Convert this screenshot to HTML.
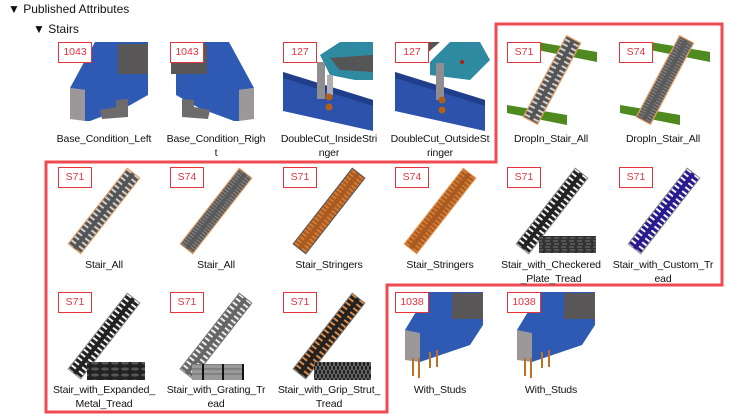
<!DOCTYPE html>
<html><head><meta charset="utf-8"><style>
html,body{margin:0;padding:0;background:#fff;}
body{width:730px;height:417px;position:relative;overflow:hidden;font-family:"Liberation Sans",sans-serif;}
.t{position:absolute;font-size:10.5px;letter-spacing:-0.15px;color:#111;text-align:center;width:114px;line-height:14px;}
.h{position:absolute;font-size:12px;color:#111;}
.b{position:absolute;width:32px;height:19px;border:1.5px solid #e8333c;background:#fff;color:#e8333c;font-size:10.5px;line-height:19px;text-align:center;}
svg{position:absolute;left:0;top:0;}
</style></head><body>
<svg width="730" height="417" viewBox="0 0 730 417">
<defs>
<pattern id="pg" width="5" height="16" patternUnits="userSpaceOnUse"><rect width="5" height="16" fill="#555"/><rect x="1" y="2" width="2" height="12" fill="#cfcfcf"/></pattern>
<pattern id="pd" width="3" height="16" patternUnits="userSpaceOnUse"><rect width="3" height="16" fill="#5a5a5a"/><rect x="1" y="2" width="1" height="12" fill="#888"/></pattern>
<pattern id="po" width="4" height="16" patternUnits="userSpaceOnUse"><rect width="4" height="16" fill="#a85a20"/><rect x="1" y="2" width="2" height="12" fill="#d07a36"/></pattern>
<pattern id="pk" width="5" height="16" patternUnits="userSpaceOnUse"><rect width="5" height="16" fill="#222"/><rect x="1" y="2" width="2" height="12" fill="#f4f4f4"/></pattern>
<pattern id="pb" width="5" height="16" patternUnits="userSpaceOnUse"><rect width="5" height="16" fill="#2a1a90"/><rect x="1" y="2" width="2" height="12" fill="#f4f4f4"/></pattern>
<pattern id="pgr" width="5" height="16" patternUnits="userSpaceOnUse"><rect width="5" height="16" fill="#666"/><rect x="1" y="2" width="2" height="12" fill="#eee"/></pattern>
<pattern id="pok" width="5" height="16" patternUnits="userSpaceOnUse"><rect width="5" height="16" fill="#222"/><rect x="1" y="2" width="2" height="12" fill="#e08a40"/></pattern>
<pattern id="chk" width="8" height="6" patternUnits="userSpaceOnUse"><rect width="8" height="6" fill="#333"/><path d="M1 1h5M2 4h5" stroke="#777" stroke-width="1"/></pattern>
<pattern id="exp" width="10" height="6" patternUnits="userSpaceOnUse"><rect width="10" height="6" fill="#222"/><ellipse cx="5" cy="3" rx="4" ry="1.6" fill="#555"/></pattern>
<pattern id="grip" width="8" height="8" patternUnits="userSpaceOnUse"><rect width="8" height="8" fill="#1a1a1a"/><path d="M0 0L4 8L8 0M0 8L4 0L8 8" stroke="#888" stroke-width="0.8" fill="none"/></pattern>
<pattern id="grt" width="20" height="18" patternUnits="userSpaceOnUse"><rect width="20" height="18" fill="#999"/><path d="M0 4H20M0 9H20M0 14H20" stroke="#555" stroke-width="0.8"/><path d="M3 0V18" stroke="#111" stroke-width="2"/></pattern>
</defs>
<path d="M46 162H496V24H722V285H387V412H46Z" fill="none" stroke="#ef4a52" stroke-width="3"/>

<!-- Base_Condition_Left -->
<polygon points="70,88 95,42 148,42 148,95 125,108 90,121 85,121 85,90" fill="#2e5ab4"/>
<polygon points="70,88 85,90 85,121 70,119" fill="#9c989a"/>
<rect x="118" y="44" width="30" height="30" fill="#5a5758"/>
<polygon points="100,110 116,107 116,100 128,99 128,117 102,119" fill="#6d6b6b"/>
<!-- Base_Condition_Right -->
<polygon points="254,88 229,42 176,42 176,95 199,108 234,121 239,121 239,90" fill="#2e5ab4"/>
<polygon points="254,88 239,90 239,121 254,119" fill="#9c989a"/>
<rect x="171" y="44" width="36" height="30" fill="#5a5758"/>
<polygon points="210,110 194,107 194,100 182,99 182,117 208,119" fill="#6d6b6b"/>
<!-- DoubleCut inside -->
<polygon points="283,72 373,100 373,131 283,111" fill="#2d52ac"/>
<polygon points="283,72 373,100 373,106 283,78" fill="#1f3f8a"/>
<polygon points="320,55 340,42 373,42 373,80 355,80 330,75" fill="#2e8aa0"/>
<polygon points="330,58 373,55 373,72 340,70" fill="#555"/>
<rect x="317" y="62" width="8" height="37" fill="#8f8d90"/>
<rect x="327" y="75" width="6" height="20" fill="#b0aeb0"/>
<circle cx="329" cy="97" r="3.5" fill="#b0601a"/><circle cx="329" cy="107" r="3.5" fill="#b0601a"/>
<!-- DoubleCut outside -->
<polygon points="395,72 485,100 485,131 395,111" fill="#2d52ac"/>
<polygon points="395,72 485,100 485,106 395,78" fill="#1f3f8a"/>
<polygon points="410,42 450,42 430,62 430,75 470,80 490,60 480,42" fill="#2e8aa0"/>
<polygon points="405,42 440,42 425,55 405,50" fill="#555"/>
<rect x="436" y="63" width="8" height="37" fill="#8f8d90"/>
<circle cx="442" cy="100" r="3.5" fill="#b0601a"/><circle cx="442" cy="110" r="3.5" fill="#b0601a"/>
<circle cx="462" cy="62" r="2" fill="#b02010"/>

<!-- DropIn stairs -->
<polygon points="537,42 597,52 597,62 537,50" fill="#4e8a20"/>
<polygon points="507,105 567,115 567,125 507,113" fill="#4e8a20"/>
<g transform="translate(552,80) rotate(-62)"><rect x="-46" y="-8" width="92" height="16" fill="url(#pg)" stroke="#e8a060" stroke-width="1.2"/></g>
<polygon points="650,42 710,52 710,62 650,50" fill="#4e8a20"/>
<polygon points="620,105 680,115 680,125 620,113" fill="#4e8a20"/>
<g transform="translate(665,80) rotate(-62)"><rect x="-46" y="-8" width="92" height="16" fill="url(#pd)" stroke="#e8a060" stroke-width="1.2"/></g>

<!-- row 2 -->
<g transform="translate(104,211) rotate(-52)"><rect x="-48" y="-8" width="96" height="16" fill="url(#pg)" stroke="#e8a060" stroke-width="1"/></g>
<g transform="translate(216,211) rotate(-52)"><rect x="-48" y="-8" width="96" height="16" fill="url(#pd)" stroke="#e8a060" stroke-width="1"/></g>
<g transform="translate(329,211) rotate(-52)"><rect x="-48" y="-8" width="96" height="16" fill="url(#po)" stroke="#555" stroke-width="1"/></g>
<g transform="translate(440,211) rotate(-52)"><rect x="-48" y="-8" width="96" height="16" fill="url(#po)" stroke="#e8a060" stroke-width="1"/></g>
<g transform="translate(552,211) rotate(-52)"><rect x="-48" y="-8" width="96" height="16" fill="url(#pk)" stroke="#888" stroke-width="1"/></g>
<rect x="539" y="236" width="57" height="17" fill="url(#chk)"/>
<g transform="translate(664,211) rotate(-52)"><rect x="-48" y="-8" width="96" height="16" fill="url(#pb)" stroke="#888" stroke-width="1"/></g>

<!-- row 3 -->
<g transform="translate(104,336) rotate(-52)"><rect x="-48" y="-8" width="96" height="16" fill="url(#pk)" stroke="#888" stroke-width="1"/></g>
<rect x="87" y="362" width="58" height="18" fill="url(#exp)"/>
<g transform="translate(216,336) rotate(-52)"><rect x="-48" y="-8" width="96" height="16" fill="url(#pgr)" stroke="#777" stroke-width="1"/></g>
<rect x="192" y="364" width="52" height="16" fill="url(#grt)"/>
<g transform="translate(329,336) rotate(-52)"><rect x="-48" y="-8" width="96" height="16" fill="url(#pok)" stroke="#777" stroke-width="1"/></g>
<rect x="314" y="362" width="57" height="18" fill="url(#grip)"/>

<!-- With_Studs -->
<g id="stud">
<polygon points="405,330 428,292 483,292 483,325 470,345 420,362" fill="#2e5ab4"/>
<polygon points="405,330 420,333 420,362 405,360" fill="#9c989a"/>
<rect x="452" y="293" width="31" height="26" fill="#5a5758"/>
<path d="M413 358V376M419 358V378M430 352V368M437 350V367" stroke="#c07020" stroke-width="2"/>
</g>
<use href="#stud" transform="translate(112,0)"/>
</svg>

<div class="h" style="left:8px;top:2px;">&#9660;&nbsp;Published Attributes</div>
<div class="h" style="left:33px;top:22px;">&#9660;&nbsp;Stairs</div>

<div class="b" style="left:58px;top:42px;">1043</div>
<div class="b" style="left:170px;top:42px;">1043</div>
<div class="b" style="left:283px;top:42px;">127</div>
<div class="b" style="left:395px;top:42px;">127</div>
<div class="b" style="left:507px;top:42px;">S71</div>
<div class="b" style="left:619px;top:42px;">S74</div>

<div class="b" style="left:58px;top:167px;">S71</div>
<div class="b" style="left:170px;top:167px;">S74</div>
<div class="b" style="left:283px;top:167px;">S71</div>
<div class="b" style="left:395px;top:167px;">S74</div>
<div class="b" style="left:507px;top:167px;">S71</div>
<div class="b" style="left:619px;top:167px;">S71</div>

<div class="b" style="left:58px;top:292px;">S71</div>
<div class="b" style="left:170px;top:292px;">S71</div>
<div class="b" style="left:283px;top:292px;">S71</div>
<div class="b" style="left:395px;top:292px;">1038</div>
<div class="b" style="left:507px;top:292px;">1038</div>

<div class="t" style="left:47px;top:132px;">Base_Condition_Left</div>
<div class="t" style="left:159px;top:132px;">Base_Condition_Righ<br>t</div>
<div class="t" style="left:272px;top:132px;">DoubleCut_InsideStri<br>nger</div>
<div class="t" style="left:383px;top:132px;">DoubleCut_OutsideSt<br>ringer</div>
<div class="t" style="left:494px;top:132px;">DropIn_Stair_All</div>
<div class="t" style="left:606px;top:132px;">DropIn_Stair_All</div>

<div class="t" style="left:47px;top:258px;">Stair_All</div>
<div class="t" style="left:159px;top:258px;">Stair_All</div>
<div class="t" style="left:272px;top:258px;">Stair_Stringers</div>
<div class="t" style="left:383px;top:258px;">Stair_Stringers</div>
<div class="t" style="left:494px;top:258px;">Stair_with_Checkered<br>_Plate_Tread</div>
<div class="t" style="left:606px;top:258px;">Stair_with_Custom_Tr<br>ead</div>

<div class="t" style="left:47px;top:383px;">Stair_with_Expanded_<br>Metal_Tread</div>
<div class="t" style="left:159px;top:383px;">Stair_with_Grating_Tr<br>ead</div>
<div class="t" style="left:272px;top:383px;">Stair_with_Grip_Strut_<br>Tread</div>
<div class="t" style="left:383px;top:383px;">With_Studs</div>
<div class="t" style="left:494px;top:383px;">With_Studs</div>
</body></html>
